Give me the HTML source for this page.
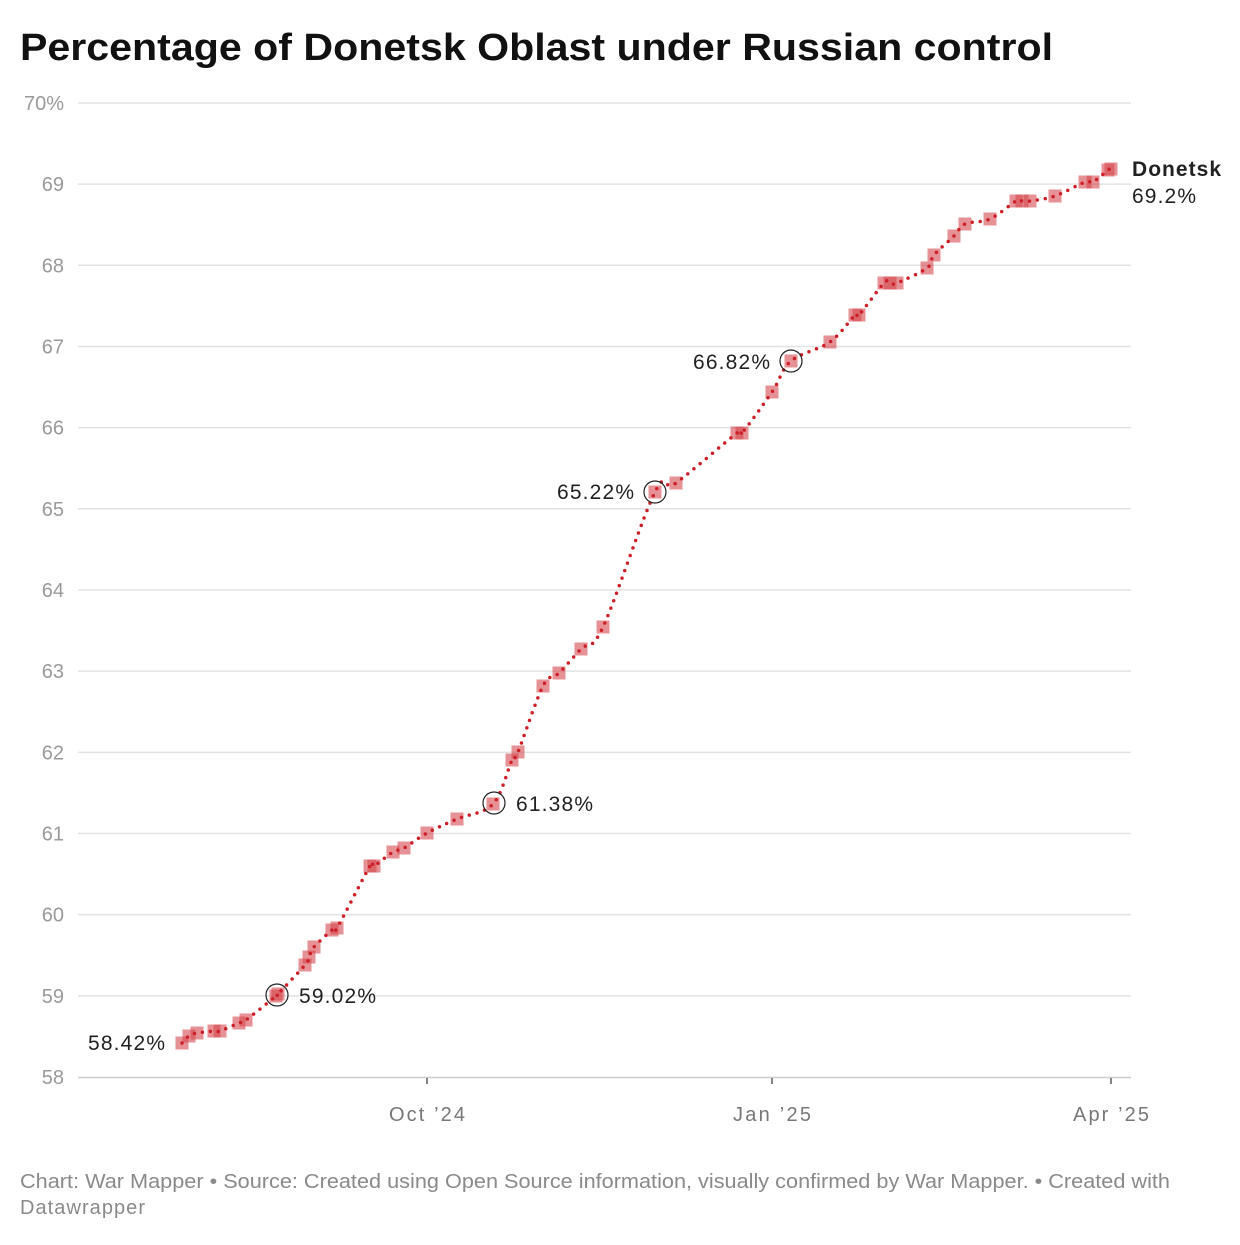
<!DOCTYPE html>
<html><head><meta charset="utf-8"><style>
body{margin:0;background:#fff;font-family:"Liberation Sans",sans-serif;}
svg text{font-family:"Liberation Sans",sans-serif;}
</style></head><body>
<svg id="s" width="1240" height="1240" xmlns="http://www.w3.org/2000/svg">
<rect width="1240" height="1240" fill="#fff"/>
<text x="20" y="60" font-size="38" font-weight="bold" fill="#111" textLength="1033" lengthAdjust="spacingAndGlyphs">Percentage of Donetsk Oblast under Russian control</text>
<g id="grid" stroke="#e2e2e2" stroke-width="1.5"></g>
<g id="ylab" font-size="20" fill="#9a9a9a"></g>
<line x1="78" y1="1077.5" x2="1131" y2="1077.5" stroke="#ccc" stroke-width="1.5"/>
<g stroke="#333" stroke-width="1.2"><line x1="427" y1="1078" x2="427" y2="1084"/><line x1="772" y1="1078" x2="772" y2="1084"/><line x1="1111" y1="1078" x2="1111" y2="1084"/></g>
<g font-size="20" fill="#777" text-anchor="middle"><text x="427" y="1121" textLength="76">Oct ’24</text><text x="772" y="1121" textLength="78">Jan ’25</text><text x="1111" y="1121" textLength="76">Apr ’25</text></g>
<g id="sq" fill="#d6474f" fill-opacity="0.6"></g>
<path id="ln" fill="none" stroke="#cc1f27" stroke-width="3.5" stroke-linecap="round" stroke-dasharray="0 8"/>
<g fill="none" stroke="#222" stroke-width="1.2"><circle cx="277" cy="995" r="11"/><circle cx="494" cy="803" r="11"/><circle cx="655" cy="492" r="11"/><circle cx="791" cy="361" r="11"/></g>
<g font-size="21" fill="#222"><text x="88" y="1050" textLength="77">58.42%</text><text x="299" y="1003" textLength="77">59.02%</text><text x="516" y="811" textLength="77">61.38%</text><text x="557" y="499" textLength="77">65.22%</text><text x="693" y="369" textLength="77">66.82%</text>
<text x="1132" y="176" font-weight="bold" textLength="89">Donetsk</text><text x="1132" y="203" textLength="64">69.2%</text></g>
<g font-size="20" fill="#8a8a8a"><text x="20" y="1188" textLength="1150" lengthAdjust="spacingAndGlyphs">Chart: War Mapper • Source: Created using Open Source information, visually confirmed by War Mapper. • Created with</text><text x="20" y="1214" textLength="125">Datawrapper</text></g>
</svg>
<script>
var NS="http://www.w3.org/2000/svg";
var g=document.getElementById("grid"),yl=document.getElementById("ylab");
for(var v=58;v<=70;v++){var y=1077-(v-58)*81.17;
 if(v>58){var l=document.createElementNS(NS,"line");l.setAttribute("x1",78);l.setAttribute("x2",1131);l.setAttribute("y1",y);l.setAttribute("y2",y);g.appendChild(l);}
 var t=document.createElementNS(NS,"text");t.setAttribute("x",64);t.setAttribute("y",y+7);t.setAttribute("text-anchor","end");t.textContent=v==70?"70%":v;yl.appendChild(t);}
var P=[[182,1043],[189,1036],[197,1033],[214,1031],[220,1031],[239,1023],[246,1020],[276,996],[278,994],[305,965],[309,957],[314,947],[332,930],[337,928],[370,866],[374,866],[393,852],[404,848],[427,833],[457,819],[493,804],[512,760],[518,752],[543,686],[559,673],[581,649],[603,627],[655,492],[676,483],[737,433],[742,433],[772,392],[791,361],[830,342],[855,315],[859,315],[884,283],[890,283],[897,283],[927,268],[934,255],[954,236],[965,224],[990,219],[1016,201],[1022,201],[1030,201],[1055,196],[1085,182],[1093,182],[1108,170],[1111,169]];
var sq=document.getElementById("sq");
P.forEach(function(p){var r=document.createElementNS(NS,"rect");r.setAttribute("x",p[0]-6.5);r.setAttribute("y",p[1]-6.5);r.setAttribute("width",13);r.setAttribute("height",13);sq.appendChild(r);});
var d="M"+P[0][0]+","+P[0][1];
for(var i=0;i<P.length-1;i++){var p0=P[Math.max(0,i-1)],p1=P[i],p2=P[i+1],p3=P[Math.min(P.length-1,i+2)];
 var c1x=p1[0]+(p2[0]-p0[0])/6,c1y=p1[1]+(p2[1]-p0[1])/6,c2x=p2[0]-(p3[0]-p1[0])/6,c2y=p2[1]-(p3[1]-p1[1])/6;
 d+=" C"+c1x+","+c1y+" "+c2x+","+c2y+" "+p2[0]+","+p2[1];}
document.getElementById("ln").setAttribute("d",d);
</script>
</body></html>
